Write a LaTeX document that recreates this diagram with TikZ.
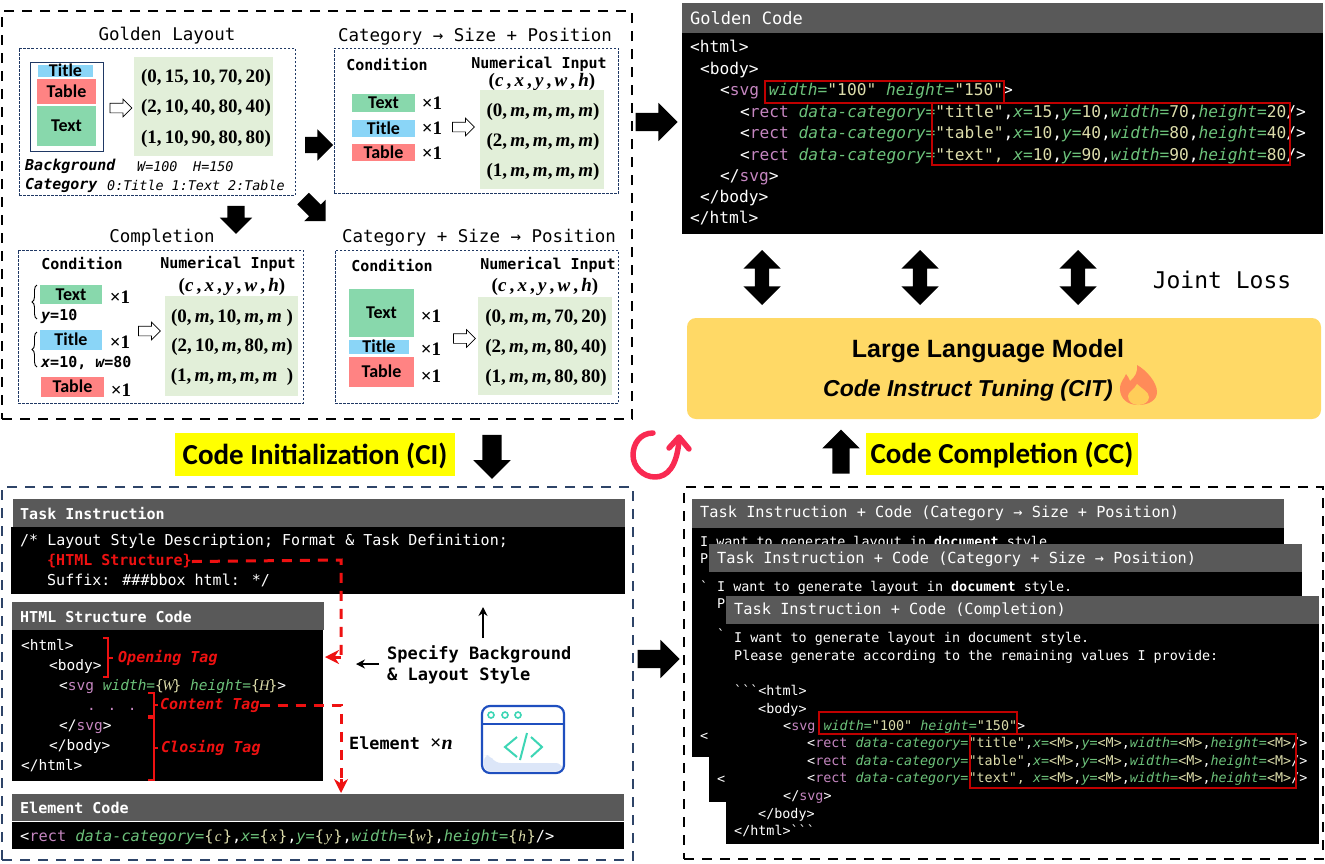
\documentclass[tikz,border=0pt]{standalone}
\usepackage{fontspec}
\usetikzlibrary{shapes.arrows,arrows.meta,fit,decorations.pathreplacing}
\newfontfamily\monof{DejaVu Sans Mono}
\newfontfamily\arialf{Liberation Sans}
\newfontfamily\calib{Carlito}
\newfontfamily\tupf{Liberation Serif}
\newcommand{\fsz}[1]{\fontsize{#1}{#1}\selectfont}
\definecolor{navyline}{HTML}{1F3864}
\definecolor{slateline}{HTML}{2E4468}
\definecolor{tagblue}{HTML}{8AD5F7}
\definecolor{tagred}{HTML}{FF8383}
\definecolor{taggreen}{HTML}{88D8AC}
\definecolor{paleleaf}{HTML}{E2EFD9}
\definecolor{headgray}{HTML}{595959}
\definecolor{tagpink}{HTML}{C586C0}
\definecolor{attrgreen}{HTML}{6CC17A}
\definecolor{valyellow}{HTML}{DCDCAA}
\definecolor{boxred}{HTML}{C00000}
\definecolor{flagred}{HTML}{EE1111}
\definecolor{modelgold}{HTML}{FFD966}
\definecolor{hiyellow}{HTML}{FFFF00}
\definecolor{looppink}{HTML}{F92A52}
\definecolor{iconblue}{HTML}{1F4FBF}
\definecolor{iconpale}{HTML}{DCE6F8}
\definecolor{iconteal}{HTML}{3DD6B5}
\newcommand{\ctag}[1]{\textcolor{tagpink}{#1}}
\newcommand{\cattr}[1]{\textcolor{attrgreen}{\itshape #1}}
\newcommand{\cval}[1]{\textcolor{valyellow}{#1}}
\newcommand{\ceq}{\textcolor{attrgreen}{=}}
\newcommand{\mv}[1]{\makebox[.6em]{\tupf\itshape #1}}
\newcommand{\vr}[1]{{\itshape #1}}
\newcommand{\varlist}{\underline{(\vr{c}\,,\,\vr{x}\,,\,\vr{y}\,,\,\vr{w}\,,\,\vr{h})}}
\newcommand{\rectcode}[5]{<\ctag{rect} \cattr{data-category}\ceq#1\cattr{x}\ceq\cval{#2},\cattr{y}\ceq\cval{#3},\cattr{width}\ceq\cval{#4},\cattr{height}\ceq\cval{#5}/>}
\begin{document}
\begin{tikzpicture}[x=1pt,y=-1pt]
\tikzstyle{outerblack}=[draw=black, line width=1.8pt, dash pattern=on 10pt off 8pt, inner sep=0pt]
\tikzstyle{outerslate}=[draw=slateline, line width=1.8pt, dash pattern=on 10pt off 8pt, inner sep=0pt]
\tikzstyle{panel}=[draw=navyline, line width=0.7pt, dash pattern=on 2.5pt off 1.5pt, inner sep=0pt]
\tikzstyle{leafbox}=[fill=paleleaf, inner sep=0pt]
\tikzstyle{tagbox}=[inner sep=0pt, text height=11pt, text depth=0pt, font=\calib\bfseries\fsz{18}]
\tikzstyle{paneltitle}=[inner sep=0pt, yshift=-2pt, font=\monof\fsz{17.5}]
\tikzstyle{boldlabel}=[inner sep=0pt, yshift=-1pt, font=\monof\bfseries\fsz{15}]
\tikzstyle{tuple}=[inner sep=0pt, font=\tupf\bfseries\fsz{19}]
\tikzstyle{hollow}=[single arrow, draw=black, fill=white, line width=0.7pt, inner xsep=0pt, inner ysep=4.5pt, minimum height=22pt, minimum width=17pt, single arrow head extend=4pt, single arrow head indent=0pt]
\tikzstyle{fat}=[single arrow, fill=black, inner xsep=0pt, single arrow head indent=0pt]
\tikzstyle{headbar}=[fill=headgray, inner sep=0pt]
\tikzstyle{blackbar}=[fill=black, inner sep=0pt]
\tikzstyle{headtext}=[anchor=west, inner sep=0pt, text=white, font=\monof\fsz{15.3}]
\tikzstyle{codeline}=[anchor=west, inner sep=0pt, yshift=-1.5pt, text height=11pt, text depth=3pt, text=white, font=\monof\fsz{15}]
\tikzstyle{goldline}=[codeline, font=\monof\fsz{16.2}]
\tikzstyle{smallline}=[codeline, font=\monof\fsz{13.4}]
\tikzstyle{redbox}=[draw=boxred, line width=2.6pt, inner sep=0pt]
\tikzstyle{redtag}=[anchor=west, inner sep=0pt, text=flagred, font=\monof\bfseries\itshape\fsz{15}]
\tikzstyle{bracket}=[draw=flagred, line width=1.8pt]
\tikzstyle{reddash}=[draw=flagred, line width=3pt, dash pattern=on 10pt off 8pt]
\tikzstyle{redtip}=[draw=flagred, line width=3pt, -{Stealth[length=14pt,width=14pt]}]
\tikzstyle{hilabel}=[fill=hiyellow, inner sep=0pt, text height=25pt, text depth=6pt, font=\calib\bfseries\fsz{29}]
\useasboundingbox (0,0) rectangle (1325,863);

\node[outerblack, fit={(2,11) (632,419)}] (layoutframe) {};
\node[outerslate, fit={(2,487) (633,860)}] (initframe) {};
\node[outerblack, fit={(684,487) (1323,859)}] (complframe) {};

\node[paneltitle] (goldentitle) at (167,34) {Golden Layout};
\node[panel, fit={(19,48) (295,195)}] (goldenpanel) {};
\node[draw=navyline, line width=0.9pt, inner sep=0pt, fit={(30.5,62) (103,151)}] (pagebox) {};
\node[tagbox, fill=tagblue, minimum width=55pt, minimum height=12pt] (pgtitle) at (65.5,71) {Title};
\node[tagbox, fill=tagred, minimum width=59pt, minimum height=25pt] (pgtable) at (66.5,91.5) {Table};
\node[tagbox, fill=taggreen, minimum width=59pt, minimum height=40pt] (pgtext) at (66.5,126) {Text};
\node[hollow] (goldenflow) at (118.5,108) {};
\node[leafbox, fit={(134,57) (273,156)}] (goldenleaf) {};
\foreach \k/\py/\tup in {a/78/{(0,\,15,\,10,\,70,\,20)},b/108/{(2,\,10,\,40,\,80,\,40)},c/139/{(1,\,10,\,90,\,80,\,80)}}
    \node[tuple] (goldentup\k) at (206,\py) {\tup};
\node[anchor=west, inner sep=0pt, font=\monof\bfseries\itshape\fsz{15}] (bgname) at (25,166) {Background};
\node[anchor=west, inner sep=0pt, font=\monof\itshape\fsz{13.4}] (bgw) at (137,167) {W=100};
\node[anchor=west, inner sep=0pt, font=\monof\itshape\fsz{13.4}] (bgh) at (193,167) {H=150};
\node[anchor=west, inner sep=0pt, font=\monof\bfseries\itshape\fsz{15}] (catname) at (25,185) {Category};
\node[anchor=west, inner sep=0pt, font=\monof\itshape\fsz{13.4}] (catlist) at (107,185) {0:Title 1:Text 2:Table};

\node[paneltitle] (sizetitle) at (475,35) {Category → Size + Position};
\node[panel, fit={(334,48) (618.5,193)}] (sizepanel) {};
\node[boldlabel] (sizecond) at (387,64) {Condition};
\node[boldlabel] (sizenum) at (539,63) {Numerical Input};
\node[tuple] (sizevars) at (542,83) {\varlist};
\node[tagbox, fill=taggreen, minimum width=63pt, minimum height=18pt] (sztext) at (383.5,103) {Text};
\node[tagbox, fill=tagblue, minimum width=63pt, minimum height=17pt] (sztitle) at (383.5,128.5) {Title};
\node[tagbox, fill=tagred, minimum width=63pt, minimum height=17pt] (sztable) at (383.5,152.5) {Table};
\foreach \k/\py in {a/103,b/128,c/153}
    \node[tuple] (sztimes\k) at (432,\py) {×1};
\node[hollow] (sizeflow) at (461,127) {};
\node[leafbox, fit={(480,90) (604,189)}] (sizeleaf) {};
\foreach \k/\py/\tup in {a/112/{(0,\,\vr{m},\,\vr{m},\,\vr{m},\,\vr{m})},b/142/{(2,\,\vr{m},\,\vr{m},\,\vr{m},\,\vr{m})},c/172/{(1,\,\vr{m},\,\vr{m},\,\vr{m},\,\vr{m})}}
    \node[tuple] (sizetup\k) at (543,\py) {\tup};

\node[paneltitle] (compltitle) at (162,236) {Completion};
\node[panel, fit={(18,250) (303,403)}] (complpanel) {};
\node[boldlabel] (complcond) at (82,263) {Condition};
\node[boldlabel] (complnum) at (228,263) {Numerical Input};
\node[tuple] (complvars) at (232,288) {\varlist};
\node[tagbox, fill=taggreen, minimum width=62pt, minimum height=19pt] (cptext) at (71,294.5) {Text};
\node[tagbox, fill=tagblue, minimum width=62pt, minimum height=20pt] (cptitle) at (71,340) {Title};
\node[tagbox, fill=tagred, minimum width=63pt, minimum height=20pt] (cptable) at (72.5,387) {Table};
\node[tuple] (cptimesa) at (120,297) {×1};
\node[tuple] (cptimesb) at (120,342) {×1};
\node[tuple] (cptimesc) at (121,390) {×1};
\node[boldlabel, anchor=west] (cpy) at (41,315) {{\itshape y}=10};
\node[boldlabel, anchor=west] (cpxw) at (41,362) {{\itshape x}=10, {\itshape w}=80};
\draw[line width=0.9pt, decorate, decoration={brace,amplitude=5pt}] (37,319) -- (37,285);
\draw[line width=0.9pt, decorate, decoration={brace,amplitude=5pt}] (37,367) -- (37,332);
\node[hollow] (complflow) at (147,331) {};
\node[leafbox, fit={(165,296) (298,396)}] (complleaf) {};
\foreach \k/\py/\tup in {a/318/{(0,\,\vr{m},\,10,\,\vr{m},\,\vr{m} )},b/347/{(2,\,10,\,\vr{m},\,80,\,\vr{m})},c/377/{(1,\,\vr{m},\,\vr{m},\,\vr{m},\,\vr{m}\ \ )}}
    \node[tuple] (compltup\k) at (232,\py) {\tup};

\node[paneltitle] (postitle) at (479,236) {Category + Size → Position};
\node[panel, fit={(335,250) (618,403)}] (pospanel) {};
\node[boldlabel] (poscond) at (392,265) {Condition};
\node[boldlabel] (posnum) at (548,264) {Numerical Input};
\node[tuple] (posvars) at (545,288) {\varlist};
\node[tagbox, fill=taggreen, minimum width=65pt, minimum height=48pt] (pstext) at (381.5,313) {Text};
\node[tagbox, fill=tagblue, minimum width=60pt, minimum height=14pt] (pstitle) at (379,347) {Title};
\node[tagbox, fill=tagred, minimum width=65pt, minimum height=30pt] (pstable) at (381.5,372) {Table};
\foreach \k/\py in {a/316,b/349,c/376}
    \node[tuple] (pstimes\k) at (431,\py) {×1};
\node[hollow] (posflow) at (462,338.5) {};
\node[leafbox, fit={(478,297) (612,395)}] (posleaf) {};
\foreach \k/\py/\tup in {a/318/{(0,\,\vr{m},\,\vr{m},\,70,\,20)},b/348/{(2,\,\vr{m},\,\vr{m},\,80,\,40)},c/378/{(1,\,\vr{m},\,\vr{m},\,80,\,80)}}
    \node[tuple] (postup\k) at (546,\py) {\tup};

\node[fat, inner ysep=8pt, minimum height=28pt, minimum width=31pt, single arrow head extend=7.5pt] (toSize) at (315,145) {};
\node[fat, rotate=270, inner ysep=8.5pt, minimum height=28pt, minimum width=32pt, single arrow head extend=7.5pt] (toCompl) at (236,215.5) {};
\node[fat, rotate=-45, inner ysep=8pt, minimum height=32pt, minimum width=30pt, single arrow head extend=7pt] (toPos) at (311.5,207) {};
\node[fat, inner ysep=9pt, minimum height=42pt, minimum width=38pt, single arrow head extend=10pt] (toGolden) at (652,122) {};
\node[fat, rotate=270, inner ysep=9.5pt, minimum height=44pt, minimum width=37pt, single arrow head extend=9pt] (toInit) at (492,452) {};
\node[fat, rotate=90, inner ysep=8.5pt, minimum height=44pt, minimum width=37pt, single arrow head extend=10pt] (toModel) at (841,456) {};
\node[fat, inner ysep=9pt, minimum height=42pt, minimum width=38pt, single arrow head extend=10pt] (toCompletion) at (654,659) {};

\node[headbar, fit={(682,3) (1323,33)}] (goldenhead) {};
\node[blackbar, fit={(682,33) (1323,234)}] (goldenbody) {};
\node[headtext, font=\monof\fsz{17}] (goldenname) at (690,18) {Golden Code};
\node[goldline] (gcA) at (690,47) {<html>};
\node[goldline] (gcB) at (700,69) {<body>};
\node[goldline] (gcC) at (720,90) {<\ctag{svg} \cattr{width}\ceq\cval{"100"} \cattr{height}\ceq\cval{"150"}>};
\node[goldline] (gcD) at (740,112) {\rectcode{\cval{"title"},}{15}{10}{70}{20}};
\node[goldline] (gcE) at (740,133) {\rectcode{\cval{"table"},}{10}{40}{80}{40}};
\node[goldline] (gcF) at (740,155) {\rectcode{\cval{"text",\ }}{10}{90}{90}{80}};
\node[goldline] (gcG) at (720,176) {</\ctag{svg}>};
\node[goldline] (gcH) at (700,197) {</body>};
\node[goldline] (gcI) at (690,218) {</html>};
\node[redbox, fit={(765,81) (1004,103)}] (goldsize) {};
\node[redbox, fit={(932,103) (1290,165)}] (goldrects) {};

\foreach \k/\px in {a/762,b/920,c/1078}
    \node[double arrow, fill=black, inner xsep=0pt, inner ysep=7pt, rotate=90, minimum height=55pt, minimum width=37pt, double arrow head extend=11.5pt, double arrow head indent=0pt] (loss\k) at (\px,277.5) {};
\node[inner sep=0pt, font=\monof\fsz{23}] (jointloss) at (1222,280) {Joint Loss};

\node[fill=modelgold, rounded corners=9pt, inner sep=0pt, fit={(687,318) (1321,419)}] (model) {};
\node[inner sep=0pt, font=\arialf\bfseries\fsz{25}] (modelname) at (988,351) {Large Language Model};
\node[inner sep=0pt, font=\arialf\bfseries\itshape\fsz{23}] (modeltuning) at (968,391) {Code Instruct Tuning (CIT)};
\fill[orange!60!red!65!white] (1138,405) .. controls (1127,405) and (1120,398) .. (1120,389) .. controls (1120,381) and (1125,378) .. (1126,374) .. controls (1128,376) and (1129,379) .. (1130,381) .. controls (1135,377) and (1138,372) .. (1137,365) .. controls (1146,370) and (1157,382) .. (1157,392) .. controls (1157,400) and (1149,405) .. (1138,405) -- cycle;
\fill[orange!60!yellow!65!white] (1138,405) .. controls (1132,405) and (1128,401) .. (1128,396) .. controls (1128,392) and (1134,390) .. (1137,384) .. controls (1141,388) and (1149,392) .. (1149,397) .. controls (1149,402) and (1144,405) .. (1138,405) -- cycle;

\node[hilabel, minimum width=280pt, minimum height=43pt] (initlabel) at (315,454.5) {Code Initialization (CI)};
\node[hilabel, minimum width=272pt, minimum height=42pt] (compllabel) at (1002,454) {Code Completion (CC)};
\draw[looppink, line width=5.5pt, line cap=round, line join=round] (653,433) .. controls (640,433) and (633,444) .. (633,455) .. controls (633,467) and (643,477) .. (655,477) .. controls (667,477) and (677,467) .. (679,440);
\draw[looppink, line width=5.5pt, line cap=round, line join=round] (669,448) -- (679,437) -- (689,449);

\node[headbar, fit={(13,499) (625,527)}] (taskhead) {};
\node[blackbar, fit={(11,527) (625,594)}] (taskbody) {};
\node[headtext, font=\monof\bfseries\fsz{15}] (taskname) at (20,513) {Task Instruction};
\node[codeline] (taskA) at (20,540) {/* Layout Style Description; Format \& Task Definition;};
\node[codeline, text=flagred, font=\monof\bfseries\fsz{15}] (taskhtml) at (47,560) {\{HTML Structure\}};
\node[codeline] (taskC) at (47,580) {Suffix: \#\#\#bbox html: */};

\node[headbar, fit={(12,602) (324,630)}] (htmlhead) {};
\node[blackbar, fit={(12,630) (323,781)}] (htmlbody) {};
\node[headtext, font=\monof\bfseries\fsz{15}] (htmlname) at (20,617) {HTML Structure Code};
\node[codeline, font=\monof\fsz{14.5}] (htmlA) at (21,645) {<html>};
\node[codeline, font=\monof\fsz{14.5}] (htmlB) at (49,665) {<body>};
\node[codeline, font=\monof\fsz{14.5}] (htmlC) at (59,685) {<\ctag{svg} \cattr{width}\ceq\cval{\{\mv{W}\}} \cattr{height}\ceq\cval{\{\mv{H}\}}>};
\node[codeline, font=\monof\fsz{14.5}, text=tagpink] (htmlD) at (87,705) {. . .};
\node[codeline, font=\monof\fsz{14.5}] (htmlE) at (59,725) {</\ctag{svg}>};
\node[codeline, font=\monof\fsz{14.5}] (htmlF) at (49,745) {</body>};
\node[codeline, font=\monof\fsz{14.5}] (htmlG) at (21,765) {</html>};
\draw[bracket] (103,638) -- (108,638) -- (108,677) -- (103,677) (108,658) -- (113,658);
\draw[bracket] (148,693) -- (154,693) -- (154,716) -- (148,716) (154,705) -- (158,705);
\draw[bracket] (148,718) -- (154,718) -- (154,780) -- (148,780) (154,748) -- (158,748);
\node[redtag] (opentag) at (118,658) {Opening Tag};
\node[redtag] (contenttag) at (160,705) {Content Tag};
\node[redtag] (closetag) at (161,748) {Closing Tag};

\node[headbar, fit={(12,794) (624,821)}] (elemhead) {};
\node[blackbar, fit={(12,822) (624,849)}] (elembody) {};
\node[headtext, font=\monof\bfseries\fsz{15}] (elemname) at (20,808) {Element Code};
\node[codeline, font=\monof\fsz{15.3}] (elemline) at (20,836) {\rectcode{\cval{\{\mv{c}\}},}{\{\mv{x}\}}{\{\mv{y}\}}{\{\mv{w}\}}{\{\mv{h}\}}};

\coordinate (turnOpen) at (341,560);
\coordinate (cornerOpen) at (341,657);
\coordinate (intoHtml) at (325,657);
\coordinate (turnElem) at (341,705);
\coordinate (intoElem) at (341,793);
\coordinate (arrowElem) at (341,779);
\coordinate (specifyUp) at (483,638);
\coordinate (specifyTop) at (483,607);
\coordinate (specifyLeft) at (379,664);
\coordinate (specifyEnd) at (356,664);
\draw[reddash] (taskhtml.east) -- (turnOpen) -- (cornerOpen) -- ++(-6,0);
\draw[redtip] (cornerOpen) -- (intoHtml);
\draw[reddash] (contenttag.east) -- (turnElem) -- (arrowElem);
\draw[redtip] (arrowElem) -- (intoElem);

\node[inner sep=0pt, anchor=west, font=\monof\bfseries\fsz{17}] (specifyA) at (387,654) {Specify Background};
\node[inner sep=0pt, anchor=west, font=\monof\bfseries\fsz{17}] (specifyB) at (387,676) {\& Layout Style};
\draw[-{Stealth[length=9pt,width=9pt]}, line width=1.3pt] (specifyUp) -- (specifyTop);
\draw[-{Stealth[length=9pt,width=9pt]}, line width=1.3pt] (specifyLeft) -- (specifyEnd);
\node[inner sep=0pt, anchor=west, font=\monof\bfseries\fsz{16.8}] (elemcount) at (349,743) {Element {\tupf\bfseries\fsz{20}×\vr{n}}};

\node[draw=iconblue, fill=white, line width=2.2pt, rounded corners=8pt, inner sep=0pt, fit={(482,706) (564,773)}] (codeicon) {};
\fill[iconpale, rounded corners=6pt] (484,755) -- (484,771) -- (562,771) -- (562,763) -- (495,763) -- (490,755) -- cycle;
\draw[iconblue, line width=1.8pt] (482,724) -- (564,724);
\foreach \k/\px in {a/491,b/505,c/518}
    \node[circle, draw=iconteal, line width=1.6pt, inner sep=0pt, minimum size=6pt] (icondot\k) at (\px,715) {};
\draw[iconteal, line width=2pt] (517,737) -- (505,747) -- (517,757) (527,733) -- (520,760) (531,737) -- (542,747) -- (531,757);

\node[headbar, fit={(692,499) (1284,528)}] (firsthead) {};
\node[blackbar, fit={(692,528) (1284,757)}] (firstbody) {};
\node[headtext] (firstname) at (700,513) {Task Instruction + Code (Category → Size + Position)};
\node[smallline] (firstA) at (700,541) {I want to generate layout in {\bfseries document} style.};
\node[smallline] (firstB) at (700,558) {P};
\node[smallline] (firstC) at (700,586) {`};
\node[smallline] (firstD) at (700,735) {<};

\node[headbar, fit={(709,544) (1302,572)}] (secondhead) {};
\node[blackbar, fit={(709,572) (1302,802)}] (secondbody) {};
\node[headtext] (secondname) at (717,559) {Task Instruction + Code (Category + Size → Position)};
\node[smallline] (secondA) at (717,586) {I want to generate layout in {\bfseries document} style.};
\node[smallline] (secondB) at (717,603) {P};
\node[smallline] (secondC) at (717,634) {`};
\node[smallline] (secondD) at (717,778) {<};

\node[headbar, fit={(726,596) (1319,624)}] (thirdhead) {};
\node[blackbar, fit={(726,624) (1319,844)}] (thirdbody) {};
\node[headtext] (thirdname) at (734,610) {Task Instruction + Code (Completion)};
\node[smallline] (thirdA) at (734,637) {I want to generate layout in document style.};
\node[smallline] (thirdB) at (734,655) {Please generate according to the remaining values I provide:};
\node[smallline] (thirdC) at (734,690) {```<html>};
\node[smallline] (thirdD) at (758,708) {<body>};
\node[smallline] (thirdE) at (783,725) {<\ctag{svg} \cattr{width}\ceq\cval{"100"} \cattr{height}\ceq\cval{"150"}>};
\node[smallline] (thirdF) at (807,742) {\rectcode{\cval{"title"},}{<M>}{<M>}{<M>}{<M>}};
\node[smallline] (thirdG) at (807,760) {\rectcode{\cval{"table"},}{<M>}{<M>}{<M>}{<M>}};
\node[smallline] (thirdH) at (807,777) {\rectcode{\cval{"text",\ }}{<M>}{<M>}{<M>}{<M>}};
\node[smallline] (thirdI) at (783,795) {</\ctag{svg}>};
\node[smallline] (thirdJ) at (758,813) {</body>};
\node[smallline] (thirdK) at (734,830) {</html>```};
\node[redbox, fit={(819,712) (1017,734)}] (thirdsize) {};
\node[redbox, fit={(970,734) (1296,788)}] (thirdrects) {};
\end{tikzpicture}
\end{document}
